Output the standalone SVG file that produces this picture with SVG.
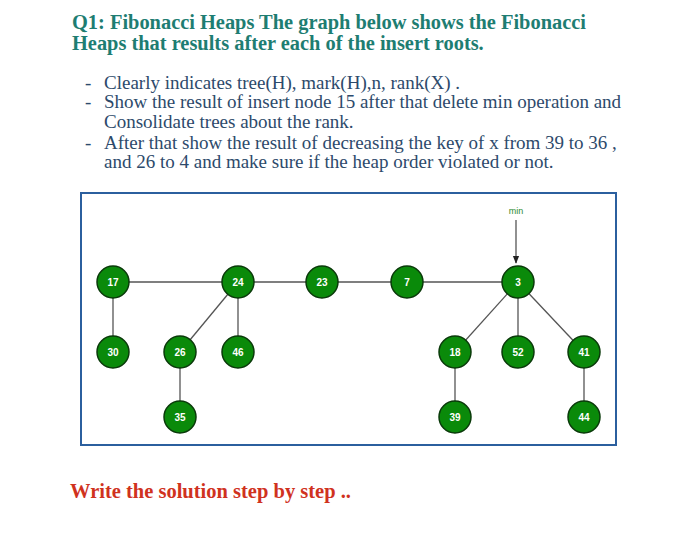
<svg xmlns="http://www.w3.org/2000/svg" width="700" height="541" viewBox="0 0 700 541">
<defs>
<style>
.t{font-family:"Liberation Serif",serif;font-size:20.4px;font-weight:bold;fill:#1e7d72}
.b{font-family:"Liberation Serif",serif;font-size:19px;fill:#2d4a6b}
.n circle{fill:#0a8a0a;stroke:#0a3a0a;stroke-width:1.5}
.n text{font-family:"Liberation Sans",sans-serif;font-size:10px;font-weight:bold;fill:#fff;text-anchor:middle}
.e line{stroke:#555;stroke-width:1.3}
</style>
<marker id="ar" viewBox="0 0 10 10" refX="9" refY="5" markerWidth="6" markerHeight="6" orient="auto"><path d="M0,1 L10,5 L0,9 z" fill="#222"/></marker>
</defs>
<rect width="700" height="541" fill="#fff"/>
<text class="t" x="72" y="29">Q1: Fibonacci Heaps The graph below shows the Fibonacci</text>
<text class="t" x="72" y="50">Heaps that results after each of the insert roots.</text>
<g class="b">
<text x="85" y="89">-</text><text x="104" y="89">Clearly indicates tree(H), mark(H),n, rank(X) .</text>
<text x="85" y="108">-</text><text x="104" y="108">Show the result of insert node 15 after that delete min operation and</text>
<text x="104" y="128">Consolidate trees about the rank.</text>
<text x="85" y="149">-</text><text x="104" y="149">After that show the result of decreasing the key of x from 39 to 36 ,</text>
<text x="104" y="168">and 26 to 4 and make sure if the heap order violated or not.</text>
</g>
<rect x="81" y="193" width="535" height="252" fill="none" stroke="#2b5f9e" stroke-width="2"/>
<text x="516" y="214" font-family="Liberation Sans,sans-serif" font-size="9" fill="#2e8b2e" text-anchor="middle">min</text>
<g id="connectors" class="e">
<line x1="516" y1="220" x2="516" y2="263" marker-end="url(#ar)" stroke="#222"/>
<line x1="113" y1="282" x2="518" y2="282"/>
<line x1="113" y1="282" x2="113" y2="352"/>
<line x1="238" y1="282" x2="180" y2="352"/>
<line x1="238" y1="282" x2="238" y2="352"/>
<line x1="180" y1="352" x2="180" y2="417"/>
<line x1="518" y1="282" x2="455" y2="352"/>
<line x1="518" y1="282" x2="518" y2="352"/>
<line x1="518" y1="282" x2="584" y2="352"/>
<line x1="455" y1="352" x2="455" y2="417"/>
<line x1="584" y1="352" x2="584" y2="417"/>
</g>
<g id="n17" class="n"><circle cx="113" cy="282" r="16"/><text x="113" y="286">17</text></g>
<g id="n24" class="n"><circle cx="238" cy="282" r="16"/><text x="238" y="286">24</text></g>
<g id="n23" class="n"><circle cx="322" cy="282" r="16"/><text x="322" y="286">23</text></g>
<g id="n7" class="n"><circle cx="407" cy="282" r="16"/><text x="407" y="286">7</text></g>
<g id="n3" class="n"><circle cx="518" cy="282" r="16"/><text x="518" y="286">3</text></g>
<g id="n30" class="n"><circle cx="113" cy="352" r="16"/><text x="113" y="356">30</text></g>
<g id="n26" class="n"><circle cx="180" cy="352" r="16"/><text x="180" y="356">26</text></g>
<g id="n46" class="n"><circle cx="238" cy="352" r="16"/><text x="238" y="356">46</text></g>
<g id="n18" class="n"><circle cx="455" cy="352" r="16"/><text x="455" y="356">18</text></g>
<g id="n52" class="n"><circle cx="518" cy="352" r="16"/><text x="518" y="356">52</text></g>
<g id="n41" class="n"><circle cx="584" cy="352" r="16"/><text x="584" y="356">41</text></g>
<g id="n35" class="n"><circle cx="180" cy="417" r="16"/><text x="180" y="421">35</text></g>
<g id="n39" class="n"><circle cx="455" cy="417" r="16"/><text x="455" y="421">39</text></g>
<g id="n44" class="n"><circle cx="584" cy="417" r="16"/><text x="584" y="421">44</text></g>
<text x="70" y="498" font-family="Liberation Serif,serif" font-size="20.5" font-weight="bold" fill="#d0321e">Write the solution step by step ..</text>
</svg>
